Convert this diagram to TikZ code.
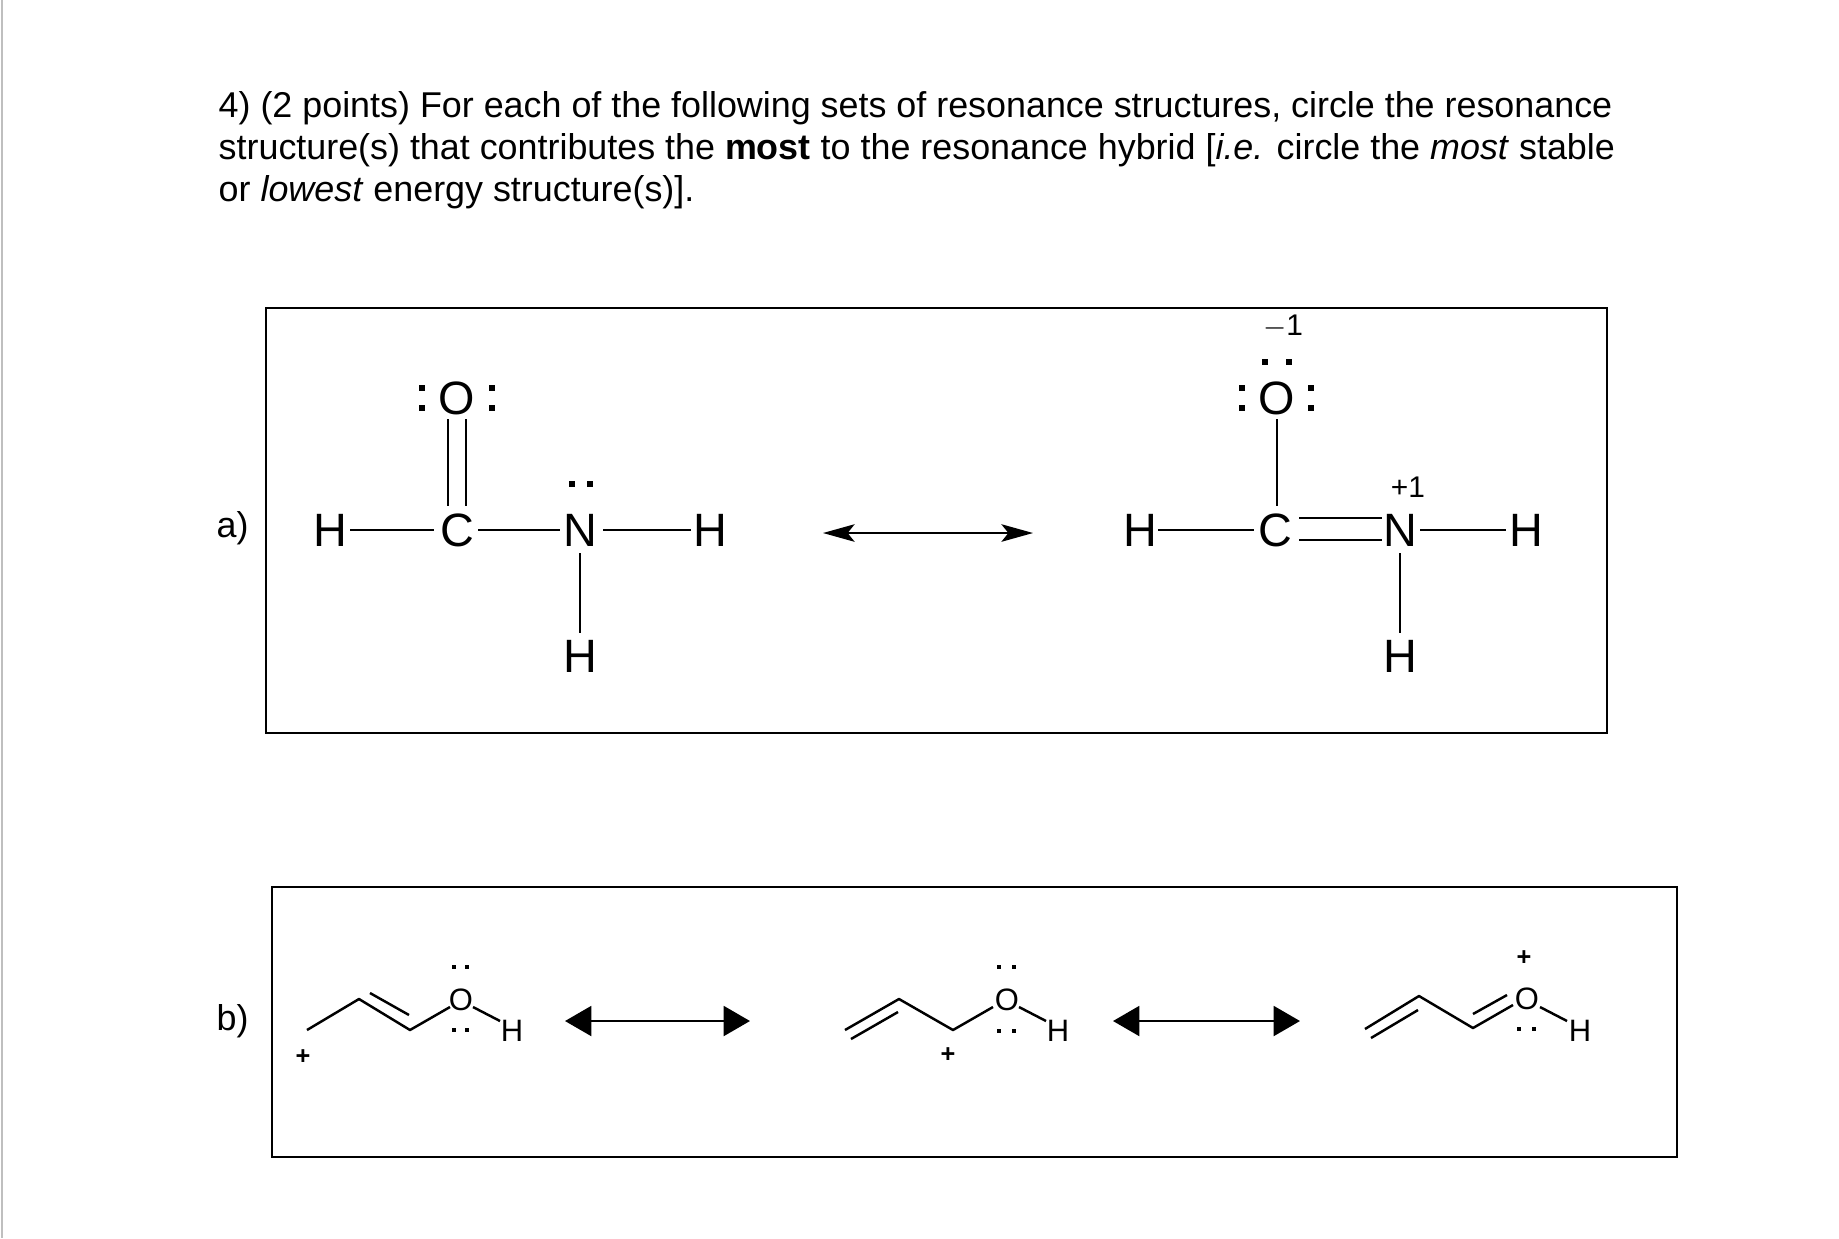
\documentclass[tikz,border=0pt]{standalone}
\usepackage{fontspec}
\setmainfont{Liberation Sans}
\usetikzlibrary{arrows.meta}
\begin{document}
\begin{tikzpicture}[x=0.01cm,y=-0.01cm,
  title/.style={anchor=base west,inner sep=0,font=\fontsize{10.2}{12}\selectfont},
  atom/.style={inner sep=0.5pt,font=\fontsize{13.3}{15}\selectfont},
  satom/.style={inner sep=0.5pt,font=\fontsize{8.8}{10}\selectfont},
  chg/.style={inner sep=0,font=\fontsize{7.2}{9}\selectfont},
  bonda/.style={line width=0.42pt},
  bondb/.style={line width=0.7pt},
  frame/.style={line width=0.6pt},
  dota/.style={fill=black},
  bigarr/.style={bondb,{Triangle[length=7.5pt,width=8.5pt]}-{Triangle[length=7.5pt,width=8.5pt]}},
]
\useasboundingbox (0,0) rectangle (1839,1238);
\draw[black!25,line width=0.6pt] (2,0) -- (2,1238);
% title
\node[title] (t1) at (218,117) {4) (2 points) For each of the following sets of resonance structures, circle the resonance};
\node[title] (t2) at (218,159) {structure(s) that contributes the \textbf{most} to the resonance hybrid [\textit{i.e.} circle the \textit{most} stable};
\node[title] (t3) at (218,201) {or \textit{lowest} energy structure(s)].};
% boxes
\draw[frame] (266,308) rectangle (1607,733);
\draw[frame] (272,887) rectangle (1677,1157);
\node[title] (la) at (216,537) {a)};
\node[title] (lb) at (216,1030) {b)};
% ---- a1
\node[atom] (h1) at (330,530) {H};
\node[atom] (c1) at (457,530) {C};
\node[atom] (n1) at (580,530) {N};
\node[atom] (h2) at (710,530) {H};
\node[atom] (h3) at (580,656) {H};
\node[atom] (o1) at (457,398) {O};
\draw[bonda] (350,530) -- (434,530);
\draw[bonda] (478,530) -- (560,530);
\draw[bonda] (603,530) -- (691,530);
\draw[bonda] (580,553) -- (580,633);
\draw[bonda] (448,419) -- (448,506);
\draw[bonda] (466,419) -- (466,506);
\foreach \x/\y in {422/388,422/408,492/388,492/408,572/484,590/484}
  \fill[dota] (\x-2.8,\y-2.8) rectangle (\x+2.8,\y+2.8);
% arrow a
\coordinate (aa) at (823,533);
\coordinate (ab) at (1033,533);
\draw[bonda,{Stealth[length=9pt,width=5pt,inset=2pt]}-{Stealth[length=9pt,width=5pt,inset=2pt]}] (aa) -- (ab);
% ---- a2
\node[atom] (h4) at (1140,530) {H};
\node[atom] (c2) at (1275,530) {C};
\node[atom] (n2) at (1400,530) {N};
\node[atom] (h5) at (1526,530) {H};
\node[atom] (h6) at (1400,656) {H};
\node[atom] (o2) at (1277,398) {O};
\node[chg] (m1) at (1283,327) {\fontsize{8.5}{10}\selectfont $-$1};
\node[chg] (p1) at (1408,487) {\fontsize{8.5}{10}\selectfont +1};
\draw[bonda] (1158,530) -- (1254,530);
\draw[bonda] (1299,518) -- (1382,518);
\draw[bonda] (1299,540) -- (1382,540);
\draw[bonda] (1420,530) -- (1506,530);
\draw[bonda] (1400,553) -- (1400,633);
\draw[bonda] (1277,419) -- (1277,506);
\foreach \x/\y in {1242/388,1242/408,1311/388,1311/408,1265/362,1289/362}
  \fill[dota] (\x-2.8,\y-2.8) rectangle (\x+2.8,\y+2.8);
% ---- b1
\node[satom] (ob1) at (461,1000) {O};
\node[satom] (hb1) at (512,1031) {H};
\node[chg] (pb1) at (303,1057) {\textbf{+}};
\draw[bondb,line join=round] (307,1030) -- (359,999) -- (410,1030) -- (450,1007);
\draw[bondb] (370,993) -- (409,1015);
\draw[bondb] (473,1007) -- (500,1021);
\foreach \x/\y in {454/967,467/967,454/1030,467/1030}
  \fill (\x-1.7,\y-1.7) rectangle (\x+1.7,\y+1.7);
% arrow b1
\coordinate (ba) at (565,1021);
\coordinate (bb) at (750,1021);
\draw[bigarr] (ba) -- (bb);
% ---- b2
\node[satom] (ob2) at (1007,1000) {O};
\node[satom] (hb2) at (1058,1031) {H};
\node[chg] (pb2) at (948,1055) {\textbf{+}};
\draw[bondb,line join=round] (845,1030) -- (899,999) -- (953,1030) -- (993,1007);
\draw[bondb] (851,1039) -- (898,1012);
\draw[bondb] (1019,1007) -- (1046,1021);
\foreach \x/\y in {999/967,1014/967,999/1031,1014/1031}
  \fill (\x-1.7,\y-1.7) rectangle (\x+1.7,\y+1.7);
% arrow b2
\coordinate (bc) at (1113,1021);
\coordinate (bd) at (1300,1021);
\draw[bigarr] (bc) -- (bd);
% ---- b3
\node[satom] (ob3) at (1527,999) {O};
\node[satom] (hb3) at (1580,1031) {H};
\node[chg] (pb3) at (1524,958) {\textbf{+}};
\draw[bondb,line join=round] (1365,1029) -- (1419,996) -- (1473,1028) -- (1513,1005);
\draw[bondb] (1371,1038) -- (1418,1010);
\draw[bondb] (1473,1014) -- (1507,995);
\draw[bondb] (1540,1007) -- (1567,1021);
\foreach \x/\y in {1519/1029,1534/1029}
  \fill (\x-1.7,\y-1.7) rectangle (\x+1.7,\y+1.7);
\end{tikzpicture}
\end{document}
